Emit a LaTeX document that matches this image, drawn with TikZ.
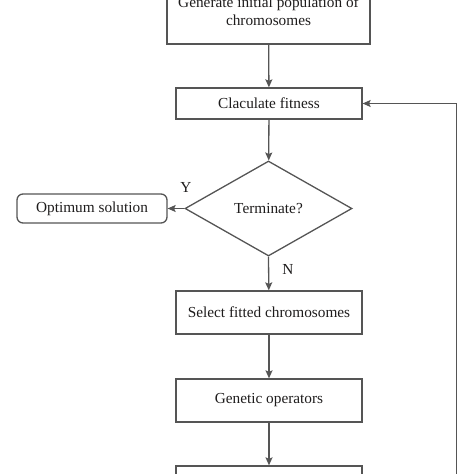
\documentclass[tikz,border=0pt]{standalone}
\usepackage{fontspec}
\setmainfont{Liberation Serif}
\usepackage{xcolor}
\usetikzlibrary{shapes.geometric,arrows.meta}
\definecolor{flowline}{RGB}{85,85,85}
\definecolor{flowtext}{RGB}{30,28,28}
\tikzset{
	stepbox/.style={draw=flowline, line width=1.3pt, rectangle, inner sep=0pt, text=flowtext, align=center},
	endbox/.style={stepbox, rounded corners=6pt},
	testbox/.style={draw=flowline, line width=1.3pt, diamond, aspect=1.76, inner sep=0pt, text=flowtext},
	flow/.style={draw=flowline, line width=1.3pt, -{Stealth[length=8pt,width=7pt,inset=1.5pt]}},
	yesno/.style={text=flowtext}
}

\begin{document}
\begin{tikzpicture}[x=1pt, y=-1pt, font=\fontsize{15.3}{18.5}\selectfont]
	\useasboundingbox (0,0) rectangle (474,474);
	\clip (0,0) rectangle (474,474);
	
	\node[stepbox, minimum width=203pt, minimum height=66pt] (init) at (268.5,11) {Generate initial population of\\chromosomes};
	\node[stepbox, minimum width=186pt, minimum height=31pt] (fit) at (269,103.5) {Claculate fitness};
	\node[testbox, minimum width=167pt, minimum height=95pt] (term) at (268.5,208.5) {Terminate?};
	\node[endbox, minimum width=150pt, minimum height=29pt] (opt) at (92,208.5) {Optimum solution};
	\node[stepbox, minimum width=186pt, minimum height=43pt] (sel) at (269,312.5) {Select fitted chromosomes};
	\node[stepbox, minimum width=186pt, minimum height=43pt] (gen) at (269,400.5) {Genetic operators};
	\node[stepbox, minimum width=186pt, minimum height=43pt] (next) at (269,487.5) {};
	\coordinate (loopdown) at (456.5,487.5);
	\coordinate (loopup) at (456.5,103.5);
	
	\draw[flow] (init) -- (fit);
	\draw[flow] (fit) -- (term);
	\draw[flow] (term.west) -- (opt);
	\draw[flow] (term.south) -- (sel);
	\draw[flow] (sel) -- (gen);
	\draw[flow] (gen) -- (next);
	\draw[flow] (next.east) -- (loopdown) -- (loopup) -- (fit.east);
	
	\node[yesno] (yes) at (186,187) {Y};
	\node[yesno] (no) at (288,269) {N};
\end{tikzpicture}
\end{document}
